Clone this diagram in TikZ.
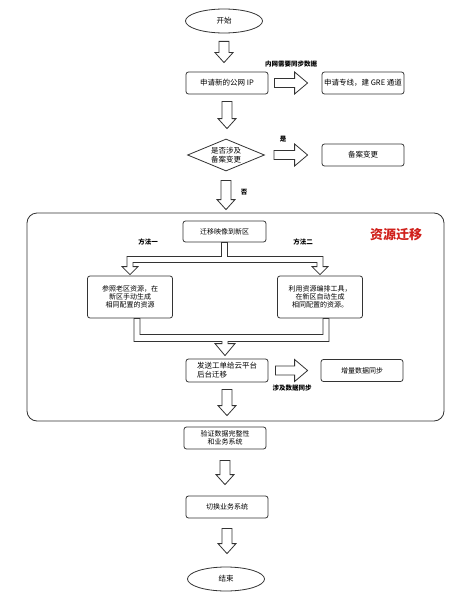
\documentclass[tikz,border=0pt]{standalone}
\usepackage{fontspec}
\setmainfont{Noto Sans CJK SC}
\usetikzlibrary{shapes.geometric,calc}
\definecolor{lc}{HTML}{333333}
\definecolor{titlered}{HTML}{D0201B}
\tikzset{
  line/.style={draw=lc, line width=0.8pt},
  box/.style={line, fill=white, rounded corners=2.5pt, minimum width=82pt, minimum height=22pt,
    inner sep=1pt, font=\fontsize{7.5}{9}\selectfont, align=center},
  small/.style={font=\fontsize{7}{8}\selectfont},
  blk/.style={line, fill=white, line join=miter},
  lbl/.style={font=\bfseries\fontsize{6.5}{8}\selectfont, inner sep=0pt},
  term/.style={line, fill=white, ellipse, minimum width=77pt, minimum height=24pt, inner sep=0pt,
    font=\fontsize{7.5}{9}\selectfont},
  bdown/.style 2 args={to path={let \p1=(\tikztostart.south), \p2=(\tikztotarget.north) in
    (\x1-5pt,\y1-#1) -- (\x1+5pt,\y1-#1) -- (\x1+5pt,\y2+#2+10pt) -- (\x1+9pt,\y2+#2+10pt)
    -- (\x1,\y2+#2) -- (\x1-9pt,\y2+#2+10pt) -- (\x1-5pt,\y2+#2+10pt) -- cycle}},
  bright/.style 2 args={to path={let \p1=(\tikztostart.east), \p2=(\tikztotarget.west) in
    (\x1+#1,\y1+4.5pt) -- (\x2-#2-13pt,\y1+4.5pt) -- (\x2-#2-13pt,\y1+11pt) -- (\x2-#2,\y1)
    -- (\x2-#2-13pt,\y1-11pt) -- (\x2-#2-13pt,\y1-4.5pt) -- (\x1+#1,\y1-4.5pt) -- cycle}},
}
\begin{document}
\begin{tikzpicture}[x=1pt,y=-1pt]
\useasboundingbox[fill=white] (0,0) rectangle (474,594);

% group container
\node[line, rounded corners=10pt, minimum width=417pt, minimum height=208pt, inner sep=0pt] (grp) at (235.5,317) {};
\node[font=\bfseries\fontsize{13}{15}\selectfont, text=titlered, inner sep=0pt] (title) at (396,235) {资源迁移};

% nodes
\node[term] (start) at (224,21) {开始};
\node[box] (ip) at (227,83) {申请新的公网 IP};
\node[box] (gre) at (363,83) {申请专线，建 GRE 通道};
\node[lbl] (l1) at (291,64) {内网需要同步数据};
\node[line, fill=white, diamond, aspect=2.4, minimum width=77pt, minimum height=32pt, inner sep=0pt,
  align=center, font=\fontsize{7.5}{8.5}\selectfont] (dec) at (226,155) {是否涉及\\备案变更};
\node[box] (ba) at (363,155) {备案变更};
\node[lbl] (lyes) at (283,139) {是};
\node[lbl] (lno) at (244,192) {否};

\node[box, small, minimum width=83pt, minimum height=21pt] (mig) at (224.5,231.5) {迁移映像到新区};
\node[lbl] (lm1) at (148,242) {方法一};
\node[lbl] (lm2) at (303,242) {方法二};
\node[box, small, minimum width=85pt, minimum height=42pt] (m1) at (130,297) {参照老区资源，在\\新区手动生成\\相同配置的资源};
\node[box, small, minimum width=85pt, minimum height=42pt] (m2) at (320,297) {利用资源编排工具，\\在新区自动生成\\相同配置的资源。};
\node[box, minimum height=23pt, align=left] (send) at (227,370.5) {发送工单给云平台\\后台迁移};
\node[box, small] (inc) at (362,370.5) {增量数据同步};
\node[lbl] (lsync) at (292,388) {涉及数据同步};

\node[box, small] (ver) at (225,438) {验证数据完整性\\和业务系统};
\node[box, small] (sw) at (227,507) {切换业务系统};
\node[term] (end) at (226,579) {结束};

% block arrows
\draw[blk] (start) to[bdown={8pt}{9pt}] (ip);
\draw[blk] (ip) to[bdown={7pt}{10pt}] (dec);
\draw[blk] (dec) to[bdown={9pt}{11pt}] (mig);
\draw[blk] (send) to[bdown={7pt}{11pt}] (ver);
\draw[blk] (ver) to[bdown={11pt}{11pt}] (sw);
\draw[blk] (sw) to[bdown={10pt}{13pt}] (end);
\draw[blk] (ip) to[bright={6pt}{14pt}] (gre);
\draw[blk] (dec) to[bright={9pt}{14pt}] (ba);
\draw[blk] (send) to[bright={7pt}{13pt}] (inc);

% split arrow
\draw[blk] let \p1=(mig.south), \p2=(m1.north), \p3=(m2.north) in
  (\x1-3pt,\y1) -- (\x1-3pt,\y1-14pt) -- (\x2-3pt,\y1-14pt) -- (\x2-3pt,\y2+9pt) -- (\x2-8pt,\y2+9pt)
  -- (\x2,\y2+1pt) -- (\x2+8pt,\y2+9pt) -- (\x2+3pt,\y2+9pt) -- (\x2+3pt,\y1-20pt)
  -- (\x3-3pt,\y1-20pt) -- (\x3-3pt,\y2+9pt) -- (\x3-8pt,\y2+9pt) -- (\x3,\y2+1pt)
  -- (\x3+8pt,\y2+9pt) -- (\x3+3pt,\y2+9pt) -- (\x3+3pt,\y1-14pt) -- (\x1+3pt,\y1-14pt)
  -- (\x1+3pt,\y1) -- cycle;

% merge arrow
\draw[blk] let \p1=(m1.south), \p2=(m2.south), \p3=(send.north) in
  (\x1+4pt,\y1) -- (\x1+4pt,\y1-23pt) -- (\x3-5pt,\y1-23pt) -- (\x3-5pt,\y3+15pt)
  -- (\x3-12pt,\y3+15pt) -- (\x3-2pt,\y3+3pt) -- (\x3+8pt,\y3+15pt) -- (\x3+1pt,\y3+15pt)
  -- (\x3+1pt,\y1-23pt) -- (\x2+9pt,\y1-23pt) -- (\x2+9pt,\y1) -- (\x2+3pt,\y1)
  -- (\x2+3pt,\y1-16pt) -- (\x1+10pt,\y1-16pt) -- (\x1+10pt,\y1) -- cycle;
\end{tikzpicture}
\end{document}
